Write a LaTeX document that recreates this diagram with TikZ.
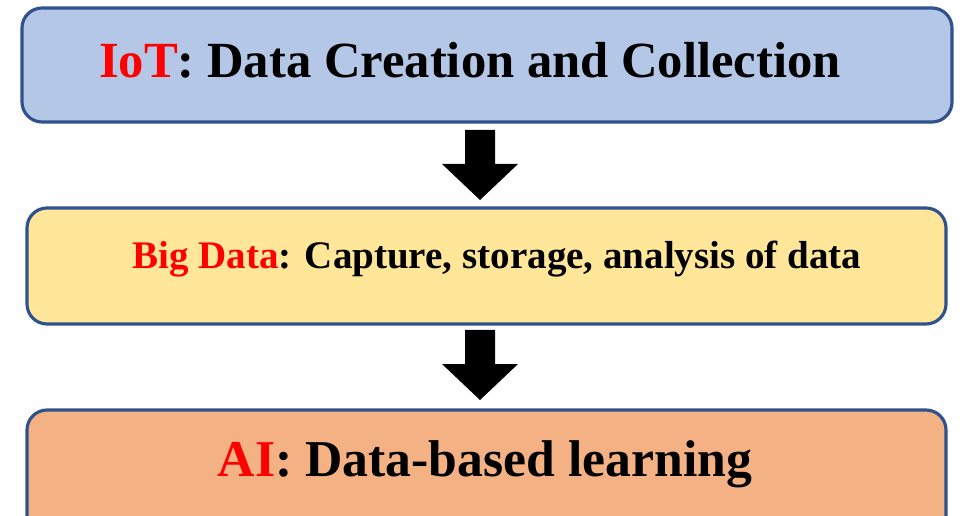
\documentclass[tikz,border=0pt]{standalone}
\usepackage{fontspec}
\setmainfont{Liberation Serif}
\begin{document}
\begin{tikzpicture}[x=0.01cm,y=-0.01cm,
  box/.style={draw=boxline,line width=0.9pt,rounded corners=0.2cm},
  txt/.style={font=\bfseries,inner sep=0pt}]
\definecolor{boxline}{HTML}{2F528F}
\definecolor{c1}{HTML}{B4C7E7}
\definecolor{c2}{HTML}{FFE699}
\definecolor{c3}{HTML}{F4B183}
\definecolor{tr}{HTML}{FF0000}
\useasboundingbox (0,0) rectangle (968,516);
\clip (0,0) rectangle (968,516);
\filldraw[box,fill=c1] (22,8) rectangle (952,122);
\filldraw[box,fill=c2] (27,208) rectangle (946,324);
\filldraw[box,fill=c3] (27,410) rectangle (946,540);
\node[txt,font=\fontsize{14.4}{16}\selectfont\bfseries] (t1) at (470,60) {\textcolor{tr}{IoT}: Data Creation and Collection};
\node[txt,font=\fontsize{11.1}{13}\selectfont\bfseries] (t2) at (497,259) {\textcolor{tr}{Big Data}: Capture, storage, analysis of data};
\node[txt,font=\fontsize{14.7}{16}\selectfont\bfseries] (t3) at (485,464) {\textcolor{tr}{AI}: Data-based learning};
\fill (465,130) -- (495,130) -- (495,164) -- (518,164) -- (480,200) -- (442,164) -- (465,164) -- cycle;
\fill (465,330) -- (495,330) -- (495,364) -- (518,364) -- (480,400) -- (442,364) -- (465,364) -- cycle;
\end{tikzpicture}
\end{document}
